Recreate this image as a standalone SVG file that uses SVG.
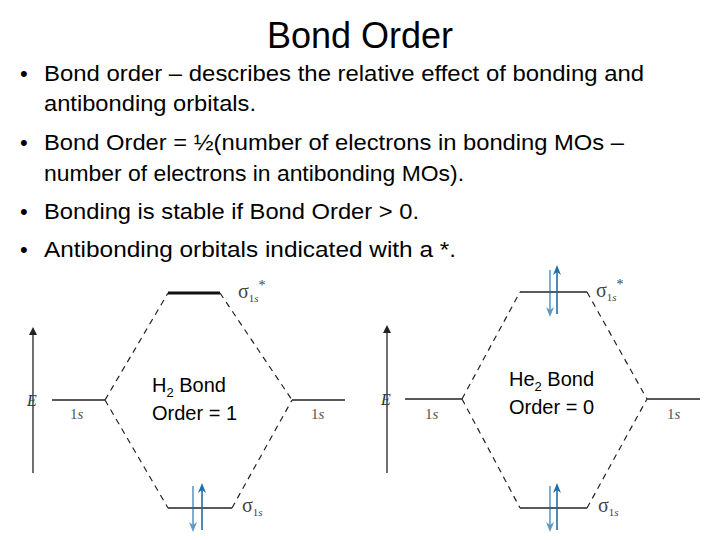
<svg xmlns="http://www.w3.org/2000/svg" width="720" height="540" viewBox="0 0 720 540">
<defs>
<style>
.t{font-family:"Liberation Sans",Arial,sans-serif;fill:#000}
.b{font-size:22px}
.lv{stroke:#222;stroke-width:1.6;fill:none}
.d{stroke:#222;stroke-width:1.2;stroke-dasharray:6,5;fill:none}
.ax{stroke:#222;stroke-width:1.3}
.sm{font-family:"Liberation Serif",serif;font-size:15px;fill:#555}
.sg{font-family:"Liberation Serif",serif;font-size:20px;fill:#444}
.el{stroke:#1f6fa8;stroke-width:1.6}
</style>
<marker id="ah" markerWidth="8" markerHeight="8" refX="4" refY="4" orient="auto" markerUnits="userSpaceOnUse"><path d="M0,0 L8,4 L0,8 Z" fill="#222"/></marker>
<marker id="eh" markerWidth="10" markerHeight="10" refX="5" refY="5" orient="auto" markerUnits="userSpaceOnUse"><path d="M0,1 L10,5 L0,9 L3,5 Z" fill="#1f6fa8"/></marker>
</defs>
<rect width="720" height="540" fill="#fff"/>
<text class="t" x="360" y="48" font-size="36" text-anchor="middle">Bond Order</text>
<g class="t b">
<text x="20" y="81">•</text><text x="44" y="81" textLength="600" lengthAdjust="spacingAndGlyphs">Bond order – describes the relative effect of bonding and</text>
<text x="44" y="111" textLength="212" lengthAdjust="spacingAndGlyphs">antibonding orbitals.</text>
<text x="20" y="150">•</text><text x="44" y="150" textLength="580" lengthAdjust="spacingAndGlyphs">Bond Order = ½(number of electrons in bonding MOs –</text>
<text x="44" y="181" textLength="420" lengthAdjust="spacingAndGlyphs">number of electrons in antibonding MOs).</text>
<text x="20" y="219">•</text><text x="44" y="219" textLength="375" lengthAdjust="spacingAndGlyphs">Bonding is stable if Bond Order &gt; 0.</text>
<text x="20" y="257">•</text><text x="44" y="257" textLength="412" lengthAdjust="spacingAndGlyphs">Antibonding orbitals indicated with a *.</text>
</g>
<g id="connectors">
<path class="d" d="M105,400 L168,293 M220,293 L292,400 M105,400 L168,508 M232,508 L292,400"/>
<path class="d" d="M462,399 L520,292 M587,292 L647,399 M462,399 L520,508 M587,508 L647,399"/>
<line class="ax" x1="33" y1="473" x2="33" y2="331" marker-end="url(#ah)"/>
<line class="ax" x1="387" y1="473" x2="387" y2="329" marker-end="url(#ah)"/>
</g>
<g id="h2">
<text x="27" y="406" font-family="Liberation Serif" font-style="italic" font-size="16" fill="#333">E</text>
<line class="lv" x1="52" y1="400" x2="105" y2="400"/><text class="sm" x="70" y="419">1<tspan font-style="italic">s</tspan></text>
<line class="lv" x1="292" y1="400" x2="345" y2="400"/><text class="sm" x="311" y="419">1<tspan font-style="italic">s</tspan></text>
<line x1="168" y1="293" x2="220" y2="293" stroke="#111" stroke-width="3"/>
<text class="sg" x="238" y="298">σ<tspan style="font-size:11px" dy="4">1<tspan font-style="italic">s</tspan></tspan><tspan dy="-12" style="font-size:14px">*</tspan></text>
<line class="lv" x1="168" y1="508" x2="232" y2="508" stroke="#555"/>
<text class="sg" x="242" y="512">σ<tspan style="font-size:11px" dy="4">1<tspan font-style="italic">s</tspan></tspan></text>
<line class="el" x1="193" y1="486" x2="193" y2="527" marker-end="url(#eh)" opacity="0.7"/>
<line class="el" x1="202" y1="530" x2="202" y2="488" marker-end="url(#eh)"/>
<text class="t" x="152" y="392" font-size="20">H<tspan font-size="13" dy="5">2</tspan><tspan dy="-5"> Bond</tspan></text>
<text class="t" x="152" y="420" font-size="20">Order = 1</text>
</g>
<g id="he2">
<text x="381" y="405" font-family="Liberation Serif" font-style="italic" font-size="16" fill="#333">E</text>
<line class="lv" x1="405" y1="399" x2="462" y2="399"/><text class="sm" x="425" y="419">1<tspan font-style="italic">s</tspan></text>
<line class="lv" x1="647" y1="399" x2="700" y2="399"/><text class="sm" x="667" y="419">1<tspan font-style="italic">s</tspan></text>
<line class="lv" x1="520" y1="292" x2="587" y2="292"/>
<text class="sg" x="596" y="297">σ<tspan style="font-size:11px" dy="4">1<tspan font-style="italic">s</tspan></tspan><tspan dy="-12" style="font-size:14px">*</tspan></text>
<line class="el" x1="550" y1="270" x2="550" y2="312" marker-end="url(#eh)" opacity="0.7"/>
<line class="el" x1="557" y1="314" x2="557" y2="270" marker-end="url(#eh)"/>
<line class="lv" x1="520" y1="508" x2="587" y2="508" stroke="#555"/>
<text class="sg" x="598" y="512">σ<tspan style="font-size:11px" dy="4">1<tspan font-style="italic">s</tspan></tspan></text>
<line class="el" x1="550" y1="486" x2="550" y2="527" marker-end="url(#eh)" opacity="0.7"/>
<line class="el" x1="557" y1="530" x2="557" y2="488" marker-end="url(#eh)"/>
<text class="t" x="509" y="386" font-size="20">He<tspan font-size="13" dy="5">2</tspan><tspan dy="-5"> Bond</tspan></text>
<text class="t" x="509" y="414" font-size="20">Order = 0</text>
</g>
</svg>
